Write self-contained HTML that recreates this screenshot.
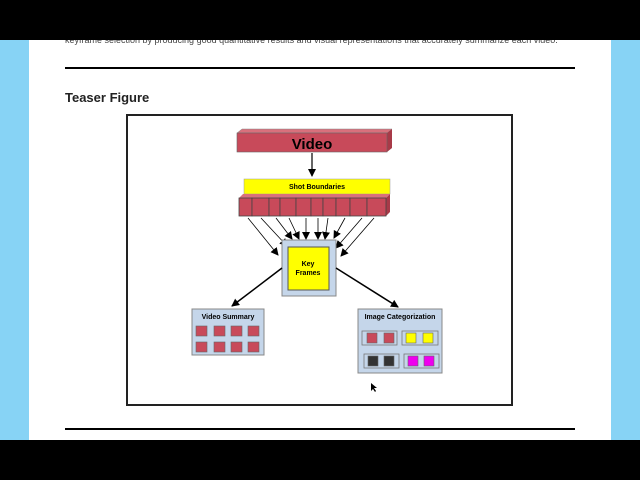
<!DOCTYPE html>
<html><head><style>
body{margin:0;width:640px;height:480px;overflow:hidden;background:#87d3f5;font-family:"Liberation Sans",sans-serif;position:relative}
.page{position:absolute;left:29px;top:0;width:582px;height:480px;background:#fff}
.bar{position:absolute;left:0;width:640px;height:40px;background:#000}
</style></head><body>
<div class="page"></div>
<div style="position:absolute;left:65px;top:35px;font-size:9px;color:#444;white-space:nowrap">keyframe selection by producing good quantitative results and visual representations that accurately summarize each video.</div>
<div style="position:absolute;left:65px;top:67px;width:510px;height:2px;background:#000"></div>
<div style="position:absolute;left:65px;top:90px;font-size:13px;font-weight:bold;color:#222">Teaser Figure</div>
<div style="position:absolute;left:65px;top:428px;width:510px;height:2px;background:#000"></div>
<svg style="position:absolute;left:0;top:0" width="640" height="480">
<defs><marker id="a" markerWidth="8" markerHeight="8" refX="7" refY="4" orient="auto" markerUnits="userSpaceOnUse"><path d="M0,0 L8,4 L0,8z" fill="#000"/></marker></defs>
<rect x="127" y="115" width="385" height="290" fill="#fff" stroke="#222" stroke-width="2"/>
<polygon points="237,133 242,129 392,129 387,133" fill="#d9707c" stroke="#888" stroke-width=".5"/>
<polygon points="387,133 392,129 392,148 387,152" fill="#a83a48"/>
<rect x="237" y="133" width="150" height="19" fill="#c84a5a" stroke="#666" stroke-width=".6"/>
<text x="312" y="149" font-size="15" font-weight="bold" text-anchor="middle">Video</text>
<line x1="312" y1="153" x2="312" y2="176" stroke="#000" stroke-width="1.2" marker-end="url(#a)"/>
<rect x="244" y="179" width="146" height="15" fill="#ffff00" stroke="#999" stroke-width=".5"/>
<text x="317" y="189" font-size="7" font-weight="bold" text-anchor="middle">Shot Boundaries</text>
<polygon points="239,198 243,194 390,194 386,198" fill="#d9707c"/>
<polygon points="386,198 390,194 390,212 386,216" fill="#a83a48"/>
<g fill="#c84a5a" stroke="#444" stroke-width=".8">
<rect x="239" y="198" width="13" height="18"/><rect x="252" y="198" width="17" height="18"/><rect x="269" y="198" width="11" height="18"/><rect x="280" y="198" width="16" height="18"/><rect x="296" y="198" width="15" height="18"/><rect x="311" y="198" width="12" height="18"/><rect x="323" y="198" width="13" height="18"/><rect x="336" y="198" width="14" height="18"/><rect x="350" y="198" width="17" height="18"/><rect x="367" y="198" width="19" height="18"/>
</g>
<g stroke="#000" stroke-width=".8" marker-end="url(#a)">
<line x1="248" y1="218" x2="278" y2="255"/><line x1="261" y1="218" x2="287" y2="246"/><line x1="276" y1="218" x2="292" y2="239"/><line x1="289" y1="218" x2="299" y2="239"/><line x1="306" y1="218" x2="306" y2="239"/><line x1="318" y1="218" x2="318" y2="239"/><line x1="328" y1="218" x2="325" y2="239"/><line x1="345" y1="218" x2="334" y2="238"/><line x1="362" y1="218" x2="336" y2="248"/><line x1="374" y1="218" x2="341" y2="256"/>
</g>
<rect x="282" y="240" width="54" height="56" fill="#c5d6ea" stroke="#888"/>
<rect x="288" y="247" width="41" height="43" fill="#ffff00" stroke="#555"/>
<text x="308" y="266" font-size="7" font-weight="bold" text-anchor="middle">Key</text>
<text x="308" y="275" font-size="7" font-weight="bold" text-anchor="middle">Frames</text>
<line x1="282" y1="268" x2="232" y2="306" stroke="#000" stroke-width="1.5" marker-end="url(#a)"/>
<line x1="336" y1="268" x2="398" y2="307" stroke="#000" stroke-width="1.5" marker-end="url(#a)"/>
<rect x="192" y="309" width="72" height="46" fill="#c5d6ea" stroke="#888"/>
<text x="228" y="319" font-size="7" font-weight="bold" text-anchor="middle">Video Summary</text>
<g fill="#c84a5a" stroke="#666" stroke-width=".6">
<rect x="196" y="326" width="11" height="10"/><rect x="214" y="326" width="11" height="10"/><rect x="231" y="326" width="11" height="10"/><rect x="248" y="326" width="11" height="10"/>
<rect x="196" y="342" width="11" height="10"/><rect x="214" y="342" width="11" height="10"/><rect x="231" y="342" width="11" height="10"/><rect x="248" y="342" width="11" height="10"/>
</g>
<rect x="358" y="309" width="84" height="64" fill="#c5d6ea" stroke="#888"/>
<text x="400" y="319" font-size="7" font-weight="bold" text-anchor="middle">Image Categorization</text>
<g fill="#c5d6ea" stroke="#777" stroke-width=".8">
<rect x="362" y="331" width="35" height="14"/><rect x="402" y="331" width="36" height="14"/><rect x="364" y="354" width="35" height="14"/><rect x="404" y="354" width="35" height="14"/>
</g>
<g stroke="#666" stroke-width=".6">
<rect x="367" y="333" width="10" height="10" fill="#c84a5a"/><rect x="384" y="333" width="10" height="10" fill="#c84a5a"/>
<rect x="406" y="333" width="10" height="10" fill="#ffff00"/><rect x="423" y="333" width="10" height="10" fill="#ffff00"/>
<rect x="368" y="356" width="10" height="10" fill="#333"/><rect x="384" y="356" width="10" height="10" fill="#333"/>
<rect x="408" y="356" width="10" height="10" fill="#ee00ee"/><rect x="424" y="356" width="10" height="10" fill="#ee00ee"/>
</g>
<path d="M371,383 L371,391 L373,389 L375,392 L376,391 L374,388 L377,388z" fill="#000"/>
</svg>
<div class="bar" style="top:0"></div>
<div class="bar" style="top:440px"></div>
</body></html>
